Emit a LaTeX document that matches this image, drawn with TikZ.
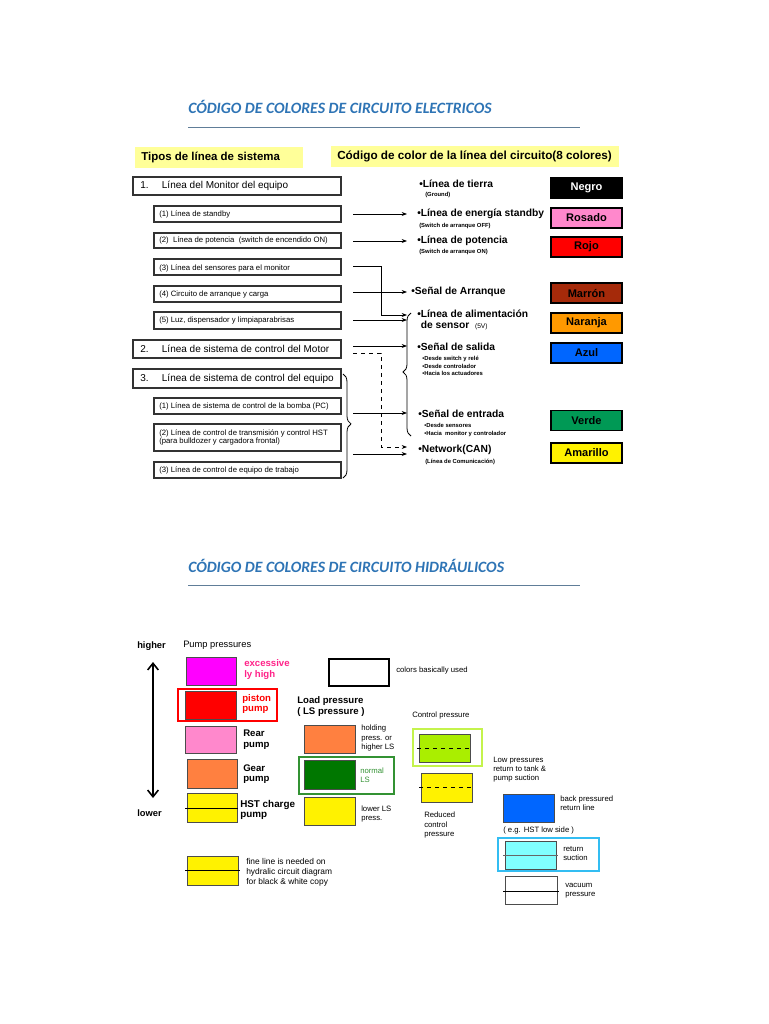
\documentclass[tikz,border=0pt]{standalone}
\usepackage{fontspec}
\setmainfont{Liberation Sans}
\newfontfamily\titlefont{Carlito}
\usetikzlibrary{arrows.meta,decorations.pathreplacing}
\definecolor{ttl}{HTML}{2E74B5}
\definecolor{hdr}{HTML}{FFFF99}
\definecolor{cmarron}{HTML}{A52A0A}
\definecolor{cnaranja}{HTML}{FF9900}
\definecolor{cazul}{HTML}{0066FF}
\definecolor{cverde}{HTML}{009955}
\definecolor{crosa}{HTML}{FF88CC}
\definecolor{cmag}{HTML}{FF00FF}
\definecolor{corange}{HTML}{FF8040}
\definecolor{cgreen}{HTML}{007700}
\definecolor{clime}{HTML}{AAEE00}
\definecolor{ccyan}{HTML}{80FFFF}
\definecolor{cexc}{HTML}{FF2288}
\tikzset{
 ttlstyle/.style={anchor=west,font=\titlefont\bfseries\itshape\fontsize{11.8}{13}\selectfont,text=ttl,inner sep=0},
 lbox/.style={draw=black!80,line width=1.1pt,inner sep=0},
 ltext/.style={anchor=west,inner sep=0,align=left},
 cbox/.style={draw,line width=0.8pt,font=\bfseries\fontsize{8.3}{9}\selectfont,inner sep=0},
 arr/.style={-{Stealth[length=4pt,width=3pt]},line width=0.6pt},
 sw/.style={draw=black!70,line width=0.5pt},
 t7/.style={anchor=west,inner sep=0,align=left,font=\fontsize{7}{8}\selectfont},
 t6/.style={anchor=west,inner sep=0,align=left,font=\fontsize{5.8}{6.8}\selectfont},
 st/.style={anchor=west,inner sep=0,align=left,font=\fontsize{5.8}{6.6}\selectfont},
 mt/.style={anchor=west,inner sep=0,align=left,font=\fontsize{7.5}{8.5}\selectfont},
}
\begin{document}
\begin{tikzpicture}[x=0.75pt,y=-0.75pt]
\useasboundingbox (0,0) rectangle (768,1024);
% ---------- Title 1
\node[ttlstyle] (t1) at (188,107) {CÓDIGO DE COLORES DE CIRCUITO ELECTRICOS};
\draw[ttl!60!black!70,line width=0.5pt] (188,127) -- (580,127);
% headers
\fill[hdr] (135,147) rectangle (303,168);
\node[ltext,font=\bfseries\fontsize{8.6}{9}\selectfont] (h1) at (141,157.5) {Tipos de línea de sistema};
\fill[hdr] (331,146) rectangle (619,167);
\node[ltext,font=\bfseries\fontsize{8.8}{9}\selectfont] (h2) at (337,156.5) {Código de color de la línea del circuito(8 colores)};
% left boxes
\draw[lbox] (133,177) rectangle (341,195);
\node[mt] (b1) at (140,186) {1.\hspace{10pt}Línea del Monitor del equipo};
\draw[lbox] (154,206) rectangle (341,222);
\node[st] (b11) at (159,214) {(1) Línea de standby};
\draw[lbox] (154,233) rectangle (341,248);
\node[st] (b12) at (159,240.5) {(2)\ \ Línea de potencia\ \ (switch de encendido ON)};
\draw[lbox] (154,259) rectangle (341,275);
\node[st] (b13) at (159,268) {(3) Línea del sensores para el monitor};
\draw[lbox] (154,286) rectangle (341,302);
\node[st] (b14) at (159,294) {(4) Circuito de arranque y carga};
\draw[lbox] (154,312) rectangle (341,329);
\node[st] (b15) at (159,320.5) {(5) Luz, dispensador y limpiaparabrisas};
\draw[lbox] (133,340) rectangle (341,358);
\node[mt] (b2) at (140,349) {2.\hspace{10pt}Línea de sistema de control del Motor};
\draw[lbox] (133,369) rectangle (341,388);
\node[mt] (b3) at (140,378.5) {3.\hspace{10pt}Línea de sistema de control del equipo};
\draw[lbox] (154,398) rectangle (341,414);
\node[st] (b31) at (159,406) {(1) Línea de sistema de control de la bomba (PC)};
\draw[lbox] (154,424) rectangle (341,451);
\node[st] (b32) at (159,437.5) {(2) Línea de control de transmisión y control HST\\(para bulldozer y cargadora frontal)};
\draw[lbox] (154,462) rectangle (341,478);
\node[st] (b33) at (159,470) {(3) Línea de control de equipo de trabajo};
% right colour boxes
\node[cbox,fill=black,text=white,minimum width=53.25pt,minimum height=15pt] (negro) at (586.5,188) {Negro};
\node[cbox,fill=crosa,minimum width=53.25pt,minimum height=15pt] (rosado) at (586.5,218) {Rosado};
\node[cbox,fill=red,minimum width=53.25pt,minimum height=15pt] (rojo) at (586.5,247) {Rojo};
\node[cbox,fill=cmarron,minimum width=53.25pt,minimum height=15pt] (marron) at (586.5,293) {Marrón};
\node[cbox,fill=cnaranja,minimum width=53.25pt,minimum height=15pt] (naranja) at (586.5,323) {Naranja};
\node[cbox,fill=cazul,minimum width=53.25pt,minimum height=15pt] (azul) at (586.5,353) {Azul};
\node[cbox,fill=cverde,minimum width=53.25pt,minimum height=15pt] (verde) at (586.5,420.5) {Verde};
\node[cbox,fill=yellow,minimum width=53.25pt,minimum height=15pt] (amarillo) at (586.5,453) {Amarillo};
% right labels
\tikzset{rl/.style={anchor=west,inner sep=0,font=\bfseries\fontsize{7.7}{8.3}\selectfont},
 rs/.style={anchor=west,inner sep=0,align=left,font=\bfseries\fontsize{4.4}{5.6}\selectfont}}
\node[rl] (l1) at (419,184) {•Línea de tierra};
\node[rs] at (425,195) {(Ground)};
\node[rl] (l2) at (417,214) {•Línea de energía standby};
\node[rs] at (419,225.5) {(Switch de arranque OFF)};
\node[rl] (l3) at (417,241) {•Línea de potencia};
\node[rs] at (419,252) {(Switch de arranque ON)};
\node[rl] (l4) at (411,292) {•Señal de Arranque};
\node[rl,align=left] (l5) at (417,319.5) {•Línea de alimentación\\\phantom{•}de sensor \ {\mdseries\fontsize{5}{6}\selectfont(5V)}};
\node[rl] (l6) at (417,347) {•Señal de salida};
\node[rs] at (422,366) {•Desde switch y relé\\•Desde controlador\\•Hacia los actuadores};
\node[rl] (l7) at (418,414) {•Señal de entrada};
\node[rs] at (424,430) {•Desde sensores\\•Hacia\ \ monitor y controlador};
\node[rl] (l8) at (418,450) {•Network(CAN)};
\node[rs] at (425,461.5) {(Línea de Comunicación)};
% arrows
\coordinate (a11) at (353,214); \coordinate (a12) at (407,214);
\draw[arr] (a11) -- (a12);
\coordinate (a21) at (353,241); \coordinate (a22) at (407,241);
\draw[arr] (a21) -- (a22);
\coordinate (a41) at (353,292); \coordinate (a42) at (407,292);
\draw[arr] (a41) -- (a42);
\coordinate (a51) at (353,320); \coordinate (a52) at (407,320);
\draw[arr] (a51) -- (a52);
\coordinate (a31) at (353,266); \coordinate (a32) at (407,315);
\draw[arr] (a31) -- (381,266) -- (381,315) -- (a32);
\coordinate (m1) at (353,346); \coordinate (m2) at (407,346);
\draw[arr] (m1) -- (m2);
\coordinate (d1) at (353,353); \coordinate (d2) at (407,447);
\draw[arr,dashed] (d1) -- (381,353) -- (381,447) -- (d2);
\coordinate (e1) at (353,413); \coordinate (e2) at (407,413);
\draw[arr] (e1) -- (e2);
\coordinate (f1) at (353,454); \coordinate (f2) at (407,454);
\draw[arr] (f1) -- (f2);
% braces
\draw[decorate,decoration={brace,amplitude=6pt,aspect=0.48},line width=0.6pt] (343,374) -- (343,478);
\draw[decorate,decoration={brace,amplitude=6pt,aspect=0.52},line width=0.6pt] (411,436) -- (411,313);
% ---------- Title 2
\node[ttlstyle] (t2) at (188,566) {CÓDIGO DE COLORES DE CIRCUITO HIDRÁULICOS};
\draw[ttl!60!black!70,line width=0.5pt] (188,585) -- (580,585);
% ---------- hydraulic
\node[t7,font=\bfseries\fontsize{7}{8}\selectfont] (hi) at (137,646) {higher};
\node[t7,font=\bfseries\fontsize{7}{8}\selectfont] (lo) at (137,813) {lower};
\draw[{Straight Barb[length=5pt,width=8pt]}-{Straight Barb[length=5pt,width=8pt]},line width=1.2pt] (153,662) -- (153,798);
\node[t7] (pp) at (183,645) {Pump pressures};
% pump column
\draw[sw,fill=cmag] (186,657) rectangle (236,685);
\node[t7,text=cexc,font=\bfseries\fontsize{7.2}{7.8}\selectfont] at (244,669.5) {excessive\\ly high};
\draw[red,line width=0.8pt] (178,689) rectangle (277,721);
\draw[sw,fill=red] (185,691) rectangle (236,719);
\node[t7,text=red,font=\bfseries\fontsize{7.2}{7.8}\selectfont] at (242,704) {piston\\pump};
\draw[sw,fill=crosa] (185,726) rectangle (236,753);
\node[t7,font=\bfseries\fontsize{7.2}{7.8}\selectfont] at (243,739.5) {Rear\\pump};
\draw[sw,fill=corange] (187,759) rectangle (237,788);
\node[t7,font=\bfseries\fontsize{7.2}{7.8}\selectfont] at (243,774) {Gear\\pump};
\draw[sw,fill=yellow] (187,793) rectangle (237,822);
\draw[line width=0.6pt] (185,808) -- (238,808);
\node[t7,font=\bfseries\fontsize{7.4}{7.8}\selectfont] at (240,810) {HST charge\\pump};
% load pressure
\node[t7,font=\bfseries\fontsize{7.2}{7.8}\selectfont] at (297,706.5) {Load pressure\\( LS pressure )};
\draw[sw,fill=corange] (304,725) rectangle (355,753);
\node[t6] at (361,738) {holding\\press. or\\higher LS};
\draw[cgreen!80,line width=0.8pt] (299,757) rectangle (394,794);
\draw[sw,fill=cgreen] (304,760) rectangle (355,789);
\node[t6,text=cgreen!80] at (360,775) {normal\\LS};
\draw[sw,fill=yellow] (304,797) rectangle (355,825);
\node[t6] at (361,814) {lower LS\\press.};
% colors basically used
\draw[line width=0.8pt] (329,659) rectangle (389,686);
\node[t6] at (396,670) {colors basically used};
% control pressure
\node[t6] at (412,715) {Control pressure};
\draw[clime!70,line width=0.8pt] (413,729) rectangle (482,766);
\draw[sw,fill=clime] (419,734) rectangle (470,762);
\draw[dashed,line width=0.6pt] (417,748) -- (473,748);
\draw[sw,fill=yellow] (421,773) rectangle (472,802);
\draw[dashed,line width=0.6pt] (419,787) -- (474,787);
\node[t6] at (424,825) {Reduced\\control\\pressure};
% low pressures
\node[t6] at (493,770) {Low pressures\\return to tank \&\\pump suction};
\draw[sw,fill=cazul] (503,794) rectangle (554,822);
\node[t6] at (560,803) {back pressured\\return line};
\node[t6] at (503,830) {( e.g. HST low side )};
\draw[cyan!80,line width=0.8pt] (498,838) rectangle (599,871);
\draw[sw,fill=ccyan] (505,841) rectangle (556,869);
\draw[black!60,line width=0.5pt] (503,855) -- (558,855);
\node[t6] at (563,853.5) {return\\suction};
\draw[sw] (505,876) rectangle (557,904);
\draw[line width=0.6pt] (503,891) -- (559,891);
\node[t6] at (565,890.5) {vacuum\\pressure};
% fine line
\draw[sw,fill=yellow] (187,856) rectangle (238,885);
\draw[line width=0.6pt] (185,870) -- (240,870);
\node[t6,font=\fontsize{6.3}{7.4}\selectfont] at (246,872) {fine line is needed on\\hydralic circuit diagram\\for black \& white copy};
\end{tikzpicture}
\end{document}
